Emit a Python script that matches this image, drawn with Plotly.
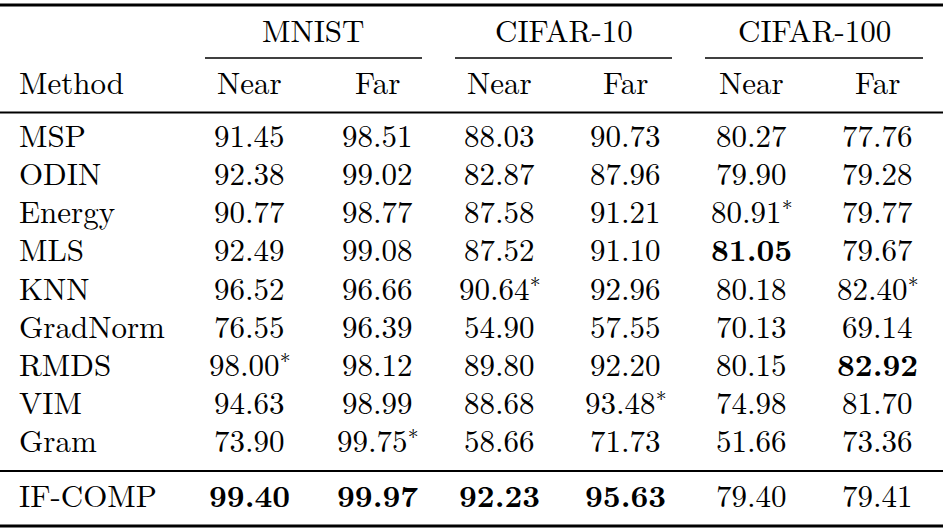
import plotly.graph_objects as go

# table contents
methods = ["MSP", "ODIN", "Energy", "MLS", "KNN", "GradNorm", "RMDS", "VIM", "Gram", "IF-COMP"]
datasets = ["MNIST", "CIFAR-10", "CIFAR-100"]
splits = ["Near", "Far"]

mnist_near = [91.45, 92.38, 90.77, 92.49, 96.52, 76.55, 98.00, 94.63, 73.90, 99.40]
mnist_far = [98.51, 99.02, 98.77, 99.08, 96.66, 96.39, 98.12, 98.99, 99.75, 99.97]
cifar10_near = [88.03, 82.87, 87.58, 87.52, 90.64, 54.90, 89.80, 88.68, 58.66, 92.23]
cifar10_far = [90.73, 87.96, 91.21, 91.10, 92.96, 57.55, 92.20, 93.48, 71.73, 95.63]
cifar100_near = [80.27, 79.90, 80.91, 81.05, 80.18, 70.13, 80.15, 74.98, 51.66, 79.40]
cifar100_far = [77.76, 79.28, 79.77, 79.67, 82.40, 69.14, 82.92, 81.70, 73.36, 79.41]

columns = [mnist_near, mnist_far, cifar10_near, cifar10_far, cifar100_near, cifar100_far]
# row index of best (bold) and runner-up among baselines (*) per column
best = [9, 9, 9, 9, 3, 6]
marked = [6, 8, 4, 7, 2, 4]

# layout (pixel space, y grows downward)
W, H = 943, 530
FONT = "Latin Modern Roman, 'Liberation Serif', serif"
FS = 31
col_x = [249, 377, 499, 625, 751, 877]
group_x = [(205, 422), (455, 672), (705, 923)]
method_x = 17
row_y = [137.5 + 38.15 * i for i in range(9)] + [497]   # cap-height centres
head1_y, head2_y = 32.5, 84
DROP = 20.5   # cap centre -> bottom of annotation box


def fmt(v, i, j):
    s = f"{v:.2f}"
    if best[j] == i:
        return f"<b>{s}</b>"
    if marked[j] == i:
        return f"{s}<sup>\u2217</sup>"
    return s


def cell(x, y, text, anchor="center"):
    fig.add_annotation(x=x, y=y + DROP, text=text, showarrow=False,
                       xanchor=anchor, yanchor="bottom",
                       font=dict(family=FONT, size=FS, color="black"))


fig = go.Figure()

cell(method_x, head2_y, "Method", "left")
for i, m in enumerate(methods):
    cell(method_x, row_y[i], m, "left")

for j, vals in enumerate(columns):
    cell(col_x[j], head2_y, splits[j % 2])
    for i, v in enumerate(vals):
        cell(col_x[j], row_y[i], fmt(v, i, j))

for k, name in enumerate(datasets):
    cell(sum(group_x[k]) / 2, head1_y, name)

# booktabs rules
rule = dict(type="line", xref="paper", x0=0, x1=1, line=dict(color="black"))
fig.add_shape(**rule, y0=5, y1=5, line_width=3)
fig.add_shape(**rule, y0=112.5, y1=112.5, line_width=2)
fig.add_shape(**rule, y0=471, y1=471, line_width=2)
fig.add_shape(**rule, y0=526, y1=526, line_width=3)
for a, b in group_x:
    fig.add_shape(type="line", x0=a, x1=b, y0=58, y1=58, line=dict(color="black", width=1.5))

fig.update_layout(
    width=W, height=H, margin=dict(l=0, r=0, t=0, b=0),
    paper_bgcolor="white", plot_bgcolor="white", showlegend=False,
    xaxis=dict(range=[0, W], visible=False, fixedrange=True),
    yaxis=dict(range=[H, 0], visible=False, fixedrange=True),
)

fig.write_html("out.html", config={"displayModeBar": False},
               post_script="document.body.style.margin='0';")
